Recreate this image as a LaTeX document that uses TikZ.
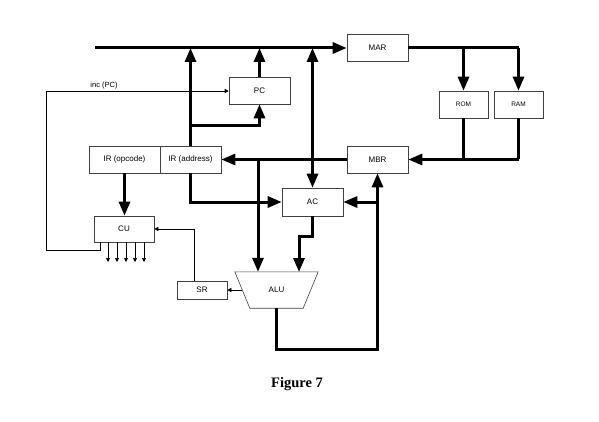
\documentclass[tikz,border=0pt]{standalone}
\usepackage{fontspec}
\setmainfont{Liberation Sans}
\newfontfamily\capfont{Liberation Serif}
\usetikzlibrary{arrows.meta,calc}
\tikzset{
  blk/.style={draw=black!75, line width=0.6pt, fill=white, inner sep=0pt, font=\fontsize{8}{9}\selectfont, minimum width=61pt, minimum height=27pt},
  small/.style={blk, minimum width=49pt, font=\fontsize{6.5}{7}\selectfont},
  bus/.style={line width=3pt, -{Triangle[length=14pt,width=11pt]}},
  busline/.style={line width=3pt},
  bus2/.style={line width=3pt, {Triangle[length=14pt,width=11pt]}-{Triangle[length=14pt,width=11pt]}},
  sig/.style={line width=0.6pt, -{Triangle[length=4pt,width=4pt]}},
  sigline/.style={line width=0.6pt}
}
\begin{document}
\begin{tikzpicture}[x=1pt,y=-1pt]
\useasboundingbox (0,0) rectangle (599,422);
% nodes
\node[blk] (MAR) at (377.5,48) {MAR};
\node[blk] (PC) at (259.5,90.5) {PC};
\node[small] (ROM) at (463.5,104.5) {ROM};
\node[small] (RAM) at (518.5,104.5) {RAM};
\node[blk] (MBR) at (377.5,159.5) {MBR};
\node[blk, minimum width=71pt] (IRo) at (124.5,159.5) {IR (opcode)};
\node[blk] (IRa) at (190.5,159.5) {IR (address)};
\node[blk, minimum height=28pt] (AC) at (312.5,202) {AC};
\node[blk, minimum width=60pt, minimum height=26pt] (CU) at (124,229) {CU};
\node[blk, minimum width=50pt, minimum height=18pt] (SR) at (202,290) {SR};
\node[inner sep=0pt, minimum width=83pt, minimum height=36pt, font=\fontsize{8}{9}\selectfont] (ALU) at (276.5,290) {ALU};
\draw[draw=black!75, line width=0.6pt] (ALU.north west) -- (ALU.north east) -- ($(ALU.south east)+(-15,0)$) -- ($(ALU.south west)+(15,0)$) -- cycle;
% coordinates
\coordinate (busL) at (95,48);
\coordinate (pcloop) at (190.5,126);
\coordinate (jALU) at (258,159.5);
\coordinate (acturn) at (312.5,236);
\coordinate (alubot) at (276.5,349);
\coordinate (incA) at (100,250);
\coordinate (incB) at (46,250);
\coordinate (incC) at (46,91);
\coordinate (srup) at (194,229);
% bus
\draw[bus] (busL) -- (MAR.west);
\draw[bus] (IRa.north) -- (IRa.north |- busL);
\draw[bus] (PC.north) -- (PC.north |- busL);
\draw[bus2] (AC.north) -- (AC.north |- busL);
\draw[busline] (pcloop) -| ($(PC.south)+(0,5)$);
\draw[bus] ($(PC.south)+(0,22)$) -- (PC.south);
% memory
\draw[busline] (MAR.east) -- (RAM.north |- MAR.east);
\draw[bus] (RAM.north |- MAR.east) -- (RAM.north);
\draw[bus] (ROM.north |- MAR.east) -- (ROM.north);
\draw[busline] (ROM.south) -- (ROM.south |- MBR.east);
\draw[busline] (RAM.south) -- (RAM.south |- MBR.east);
\draw[bus] (RAM.south |- MBR.east) -- (MBR.east);
% MBR to IR and ALU
\draw[bus] (MBR.west) -- (IRa.east);
\draw[bus] (jALU) -- (jALU |- ALU.north);
% IR address to AC
\draw[bus] (IRa.south) |- (AC.west);
% AC to ALU
\draw[busline] (AC.south) -- (acturn) -| (299,260);
\draw[bus] (299,258) -- (299,272);
% ALU result back
\draw[busline] (ALU.south) -- (alubot) -| (MBR.south |- AC.east);
\draw[bus] (MBR.south |- AC.east) -- (MBR.south);
\draw[bus] (MBR.south |- AC.east) -- (AC.east);
% control
\draw[bus] (IRo.south) -- (IRo.south |- CU.north);
\foreach \xx in {108,117,126,135,144} {
  \draw[sig] (\xx,242) -- (\xx,262);
}
\draw[sigline] (CU.south -| incA) -- (incA) -- (incB) -- (incC);
\draw[sig] (incC) -- (PC.west |- incC);
\node[font=\fontsize{7.5}{8}\selectfont, anchor=south, inner sep=1pt] (inclbl) at (104,90) {inc (PC)};
\draw[sigline] (SR.north -| srup) -- (srup);
\draw[sig] (srup) -- (CU.east);
\draw[sig] ($(ALU.west)+(7,0)$) -- (SR.east);
% caption
\node[font=\capfont\bfseries\fontsize{14.5}{16}\selectfont] (cap) at (297,384) {Figure 7};
\end{tikzpicture}
\end{document}
